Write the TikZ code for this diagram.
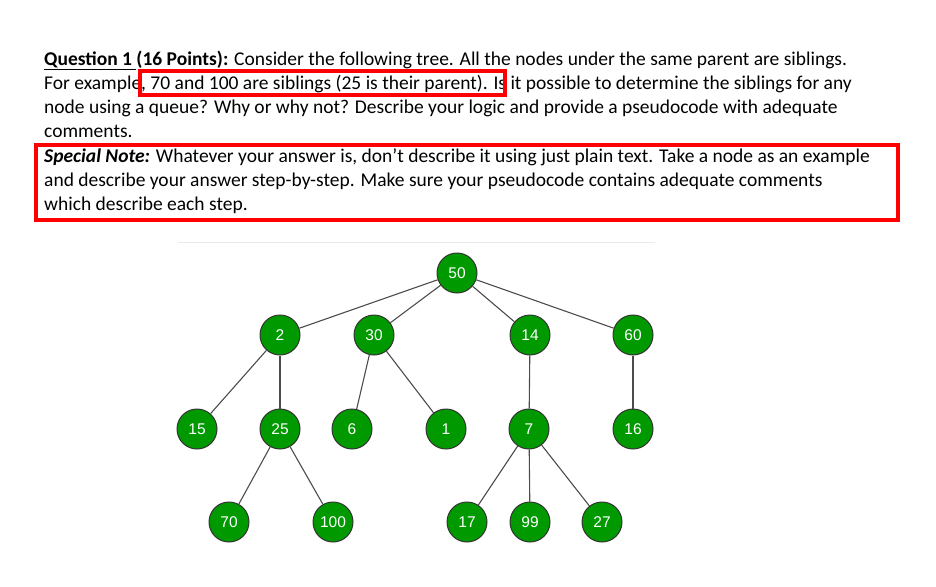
\documentclass[tikz,border=0pt]{standalone}
\usepackage{fontspec}
\setmainfont{Carlito}
\newfontfamily\arialf{Liberation Sans}
\begin{document}
\begin{tikzpicture}[x=1pt,y=-1pt,
  tn/.style={circle,draw=black!80,line width=1pt,fill=green!60!black,minimum size=40pt,inner sep=0pt,text=white,font=\arialf\fontsize{15.5}{15.5}\selectfont},
  ed/.style={draw=black!70,line width=1.1pt},
  ln/.style={anchor=base west,inner sep=0pt,font=\fontsize{19.5}{24}\selectfont},
  redbox/.style={draw=red,line width=3.5pt}]
\useasboundingbox (0,0) rectangle (936,586);
\node[ln] (l1) at (44,65) {\textbf{\underline{Question 1 }(16 Points):} Consider the following tree. All the nodes under the same parent are siblings.};
\node[ln] (l2) at (44,89) {For example, 70 and 100 are siblings (25 is their parent). Is it possible to determine the siblings for any};
\node[ln] (l3) at (44,113) {node using a queue? Why or why not? Describe your logic and provide a pseudocode with adequate};
\node[ln] (l4) at (44,137) {comments.};
\node[ln] (l5) at (44,162) {\textbf{\textit{Special Note:}} Whatever your answer is, don’t describe it using just plain text. Take a node as an example};
\node[ln] (l6) at (44,186) {and describe your answer step-by-step. Make sure your pseudocode contains adequate comments};
\node[ln] (l7) at (44,210) {which describe each step.};
\draw[redbox] (140,71) rectangle (505,95);
\draw[redbox] (36,145) rectangle (898,220);
\draw[black!8,line width=0.8pt] (178,242) -- (655,242);
\node[tn] (n50) at (457,273) {50};
\node[tn] (n2) at (280,335) {2};
\node[tn] (n30) at (374,335) {30};
\node[tn] (n14) at (530,335) {14};
\node[tn] (n60) at (633,335) {60};
\node[tn] (n15) at (197,429) {15};
\node[tn] (n25) at (280,429) {25};
\node[tn] (n6) at (352,429) {6};
\node[tn] (n1) at (446,429) {1};
\node[tn] (n7) at (529,429) {7};
\node[tn] (n16) at (633,429) {16};
\node[tn] (n70) at (229,522) {70};
\node[tn] (n100) at (333,522) {100};
\node[tn] (n17) at (467,522) {17};
\node[tn] (n99) at (530,522) {99};
\node[tn] (n27) at (602,522) {27};
\foreach \a/\b in {50/2,50/30,50/14,50/60,2/15,2/25,30/6,30/1,14/7,60/16,25/70,25/100,7/17,7/99,7/27}
  \draw[ed] (n\a) -- (n\b);
\end{tikzpicture}
\end{document}
